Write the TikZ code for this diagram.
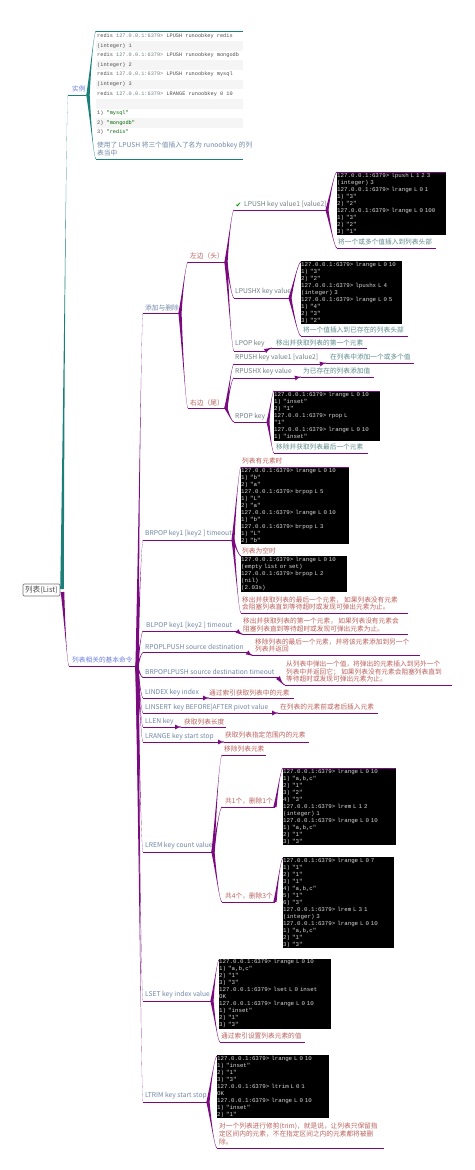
\documentclass[tikz,border=0pt]{standalone}
\usepackage{fontspec}
\usetikzlibrary{calc}
\newfontfamily\cjkf{Noto Sans CJK SC}
\newfontfamily\termf{Liberation Mono}
\newfontfamily\symf{DejaVu Sans}
\definecolor{pur}{HTML}{7B0A80}
\definecolor{tealb}{HTML}{1A7F78}
\definecolor{blu}{HTML}{6F86A8}
\definecolor{vblu}{HTML}{6C7FE0}
\definecolor{grn}{HTML}{5F8A8A}
\definecolor{redt}{HTML}{B9605C}
\definecolor{gtx}{HTML}{6F7F80}
\tikzset{
  lab/.style={anchor=west,inner sep=0pt,font=\cjkf\fontsize{6.7}{7.6}\selectfont,align=left},
  termbox/.style={anchor=north west,inner sep=0pt,fill=black,text=black!15,align=left,font=\termf\fontsize{5.8}{7}\selectfont},
  codeline/.style={anchor=west,inner sep=0pt,font=\termf\fontsize{5.25}{6}\selectfont,text=black!70},
  stripe/.style={fill=black!4,draw=none,inner sep=0pt,anchor=north west,minimum width=147pt,minimum height=9.65pt},
  rootbox/.style={draw=black!55,rounded corners=1.2pt,line width=.7pt,inner sep=0pt,minimum width=37pt,minimum height=12pt,font=\cjkf\fontsize{7.6}{8}\selectfont,text=black!70}
}
% tapered connector from coordinate #2 to coordinate #3, half width #4
\newcommand\taper[4][pur]{%
  \fill[#1] let \p1=(#2),\p2=(#3),\n1={\x2-\x1},\n2={\y2-\y1},\n3={atan2(.5*\n2,.4*\n1)} in
    ({\x1+#4pt*sin(\n3)},{\y1-#4pt*cos(\n3)})
    .. controls ({\x1+.4*\n1},{\y1+.5*\n2-.5pt}) and ({\x1+.75*\n1},{\y2-.45pt}) .. (\x2,{\y2-.45pt})
    -- (\x2,{\y2+.45pt})
    .. controls ({\x1+.75*\n1},{\y2+.45pt}) and ({\x1+.4*\n1},{\y1+.5*\n2+.5pt}) ..
    ({\x1-#4pt*sin(\n3)},{\y1+#4pt*cos(\n3)}) -- cycle;}
% \branch[colour]{parent}{name}{x1}{y}{x2}{half width}
\newcommand\branch[7][pur]{%
  \coordinate (#3) at (#4,#5);\coordinate (#3e) at (#6,#5);
  \taper[#1]{#2}{#3}{#7}
  \draw[#1,line width=.9pt] (#3) -- (#3e);}
\newcommand\term[6]{\node[termbox,text width=#4pt,minimum height=#5pt] (#1) at (#2,#3) {#6};}
\newcommand\pr{127.0.0.1:6379> }
\begin{document}
\begin{tikzpicture}[x=1pt,y=-1pt]
\useasboundingbox (0,0) rectangle (474,1170);
% example code block
\node[stripe] (s1) at (96,40.8) {};
\node[stripe] (s2) at (96,60.1) {};
\node[stripe] (s3) at (96,79.4) {};
\node[stripe] (s4) at (96,98.7) {};
\node[stripe] (s5) at (96,118) {};
\node[codeline] (c1) at (97,36) {redis \textcolor{gtx}{127.0.0.1:6379>} LPUSH runoobkey redis};
\node[codeline] (c2) at (97,45.7) {(integer) 1};
\node[codeline] (c3) at (97,55.3) {redis \textcolor{gtx}{127.0.0.1:6379>} LPUSH runoobkey mongodb};
\node[codeline] (c4) at (97,65) {(integer) 2};
\node[codeline] (c5) at (97,74.6) {redis \textcolor{gtx}{127.0.0.1:6379>} LPUSH runoobkey mysql};
\node[codeline] (c6) at (97,84.3) {(integer) 3};
\node[codeline] (c7) at (97,93.9) {redis \textcolor{gtx}{127.0.0.1:6379>} LRANGE runoobkey 0 10};
\node[codeline] (c8) at (97,113.2) {1) \textcolor{green!40!black}{"mysql"}};
\node[codeline] (c9) at (97,122.9) {2) \textcolor{green!40!black}{"mongodb"}};
\node[codeline] (c10) at (97,132.5) {3) \textcolor{green!40!black}{"redis"}};
% terminals with a visible top line
\term{tA}{337}{172}{109}{63}{\pr lpush L 1 2 3\\(integer) 3\\\pr lrange L 0 1\\1) "3"\\2) "2"\\\pr lrange L 0 100\\1) "3"\\2) "2"\\3) "1"}
\term{tC}{274}{391}{106}{50}{\pr lrange L 0 10\\1) "inset"\\2) "1"\\\pr rpop L\\"1"\\\pr lrange L 0 10\\1) "inset"}
\term{tD}{241}{467}{108}{77}{\pr lrange L 0 10\\1) "b"\\2) "a"\\\pr brpop L 5\\1) "L"\\2) "a"\\\pr lrange L 0 10\\1) "b"\\\pr brpop L 3\\1) "L"\\2) "b"}
\term{tF}{283}{768}{113}{77}{\pr lrange L 0 10\\1) "a,b,c"\\2) "1"\\3) "2"\\4) "3"\\\pr lrem L 1 2\\(integer) 1\\\pr lrange L 0 10\\1) "a,b,c"\\2) "1"\\3) "3"}
% root
\node[rootbox] (root) at (41.5,590) {列表(List)};
\coordinate (r1) at (62,589);
\coordinate (r2) at (62.5,592);
% trunks
\branch[tealb]{r1}{ex}{68}{95}{86}{1.8}
\coordinate (exj) at (88,95);
\taper[tealb]{exe}{exj}{.6}
\branch[tealb]{exj}{exa}{96}{31}{243}{1.7}
\branch[tealb]{exj}{exb}{96}{159}{243}{1.7}
\branch{r2}{cmd}{69}{666}{135}{1.8}
\coordinate (j) at (137,667);
\taper{cmde}{j}{.6}
% add/remove
\branch{j}{ad}{143}{313}{180}{1.6}
\branch{ade}{le}{188}{262}{226}{1.6}
\branch{ade}{ri}{188}{408}{226}{1.6}
\branch{lee}{lp}{234}{210}{327}{1.6}
\branch{lpe}{lpa}{337}{172}{446}{1.5}
\branch{lpe}{lpb}{337}{248}{436}{1.5}
\branch{lee}{lx}{234}{298}{290}{1.6}
\branch{lxe}{lxa}{301}{262}{402}{1.5}
\branch{lxe}{lxb}{301}{336}{408}{1.5}
\branch{lee}{lq}{234}{351}{265}{1.6}
\branch{lqe}{lqa}{272}{348}{367}{2.4}
\branch{rie}{rp}{234}{364}{320}{1.6}
\branch{rpe}{rpa}{326}{363}{414}{2.4}
\branch{rie}{rx}{234}{378}{295}{1.6}
\branch{rxe}{rxa}{301}{377}{374}{2.4}
\branch{rie}{rq}{234}{422}{268}{1.6}
\branch{rqe}{rqa}{274}{391}{380}{1.5}
\branch{rqe}{rqb}{274}{453}{368}{1.5}
% BRPOP
\branch{j}{br}{143}{540}{233}{1.6}
\branch{bre}{bra}{241}{467}{349}{1.5}
\branch{bre}{brb}{241}{556}{347}{1.5}
\branch{bre}{brc}{241}{613}{408}{1.5}
% single commands
\branch{j}{bl}{143}{631}{237}{1.6}
\branch{ble}{bla}{243}{634.5}{408}{2.4}
\branch{j}{rl}{143}{652.5}{247}{1.6}
\branch{rle}{rla}{253}{655.5}{420}{2.4}
\branch{j}{bb}{143}{677.5}{278}{1.6}
\branch{bbe}{bba}{285}{685}{452}{2.4}
\branch{j}{li}{143}{698}{203}{1.6}
\branch{lie}{lia}{209}{698}{294}{2.4}
\branch{j}{ls}{143}{713}{272}{1.6}
\branch{lse}{lsa}{278}{713}{378}{2.4}
\branch{j}{ll}{143}{727}{175}{1.6}
\branch{lle}{lla}{181}{727}{226}{2.4}
\branch{j}{lr}{143}{742}{218}{1.6}
\branch{lre}{lra}{224}{742}{309}{2.4}
% LREM
\branch{j}{lm}{143}{852}{213}{1.6}
\branch{lme}{lma}{222}{755}{266}{1.6}
\branch{lme}{lmb}{222}{807}{275}{1.6}
\branch{lme}{lmc}{222}{902}{275}{1.6}
\branch{lmbe}{lmd}{283}{768}{396}{1.6}
\branch{lmce}{lmf}{283}{858}{394}{1.6}
% LSET, LTRIM
\branch{j}{lt}{143}{1001}{212}{1.6}
\branch{lte}{lta}{219}{960}{331}{1.6}
\branch{lte}{ltb}{220}{1042}{305}{1.6}
\branch{j}{lu}{143}{1102}{208}{1.6}
\branch{lue}{lua}{217}{1056}{329}{1.6}
\branch{lue}{lub}{217}{1148}{384}{1.6}
% terminals drawn over their connector
\term{tB}{301}{261}{101}{63}{\pr lrange L 0 10\\1) "3"\\2) "2"\\\pr lpushx L 4\\(integer) 3\\\pr lrange L 0 5\\1) "4"\\2) "3"\\3) "2"}
\term{tE}{241}{556}{106}{36}{\pr lrange L 0 10\\(empty list or set)\\\pr brpop L 2\\(nil)\\(2.03s)}
\term{tG}{283}{857}{111}{91}{\pr lrange L 0 7\\1) "1"\\2) "1"\\3) "1"\\4) "a,b,c"\\5) "1"\\6) "3"\\\pr lrem L 3 1\\(integer) 3\\\pr lrange L 0 10\\1) "a,b,c"\\2) "1"\\3) "3"}
\term{tH}{219}{958.5}{112}{70}{\pr lrange L 0 10\\1) "a,b,c"\\2) "1"\\3) "3"\\\pr lset L 0 inset\\OK\\\pr lrange L 0 10\\1) "inset"\\2) "1"\\3) "3"}
\term{tI}{217}{1055}{112}{63}{\pr lrange L 0 10\\1) "inset"\\2) "1"\\3) "3"\\\pr ltrim L 0 1\\OK\\\pr lrange L 0 10\\1) "inset"\\2) "1"}
% labels
\node[lab,text=vblu] (n1) at (72,89) {实例};
\node[lab,text=vblu] (n2) at (72,660) {列表相关的基本命令};
\node[lab,text=blu] (n3) at (97,149) {使用了 LPUSH 将三个值插入了名为 runoobkey 的列\\表当中};
\node[lab,text=blu] (n4) at (145,308) {添加与删除};
\node[lab,text=redt] (n5) at (190,256) {左边（头）};
\node[lab,text=redt] (n6) at (190,403) {右边（尾）};
\node[lab,text=green!60!black,font=\symf\fontsize{7}{7}\selectfont] (n7) at (235.5,205) {✔};
\node[lab,text=gtx] (n8) at (244,205) {LPUSH key value1 [value2]};
\node[lab,text=grn] (n9) at (338,242) {将一个或多个值插入到列表头部};
\node[lab,text=gtx] (n10) at (235,292) {LPUSHX key value};
\node[lab,text=grn] (n11) at (303,330) {将一个值插入到已存在的列表头部};
\node[lab,text=gtx] (n12) at (235,344) {LPOP key};
\node[lab,text=grn] (n13) at (276,343) {移出并获取列表的第一个元素};
\node[lab,text=gtx] (n14) at (235,358) {RPUSH key value1 [value2]};
\node[lab,text=grn] (n15) at (330,357) {在列表中添加一个或多个值};
\node[lab,text=gtx] (n16) at (235,372) {RPUSHX key value};
\node[lab,text=grn] (n17) at (303,371) {为已存在的列表添加值};
\node[lab,text=gtx] (n18) at (235,417) {RPOP key};
\node[lab,text=grn] (n19) at (276,447) {移除并获取列表最后一个元素};
\node[lab,text=blu] (n20) at (145,534) {BRPOP key1 [key2 ] timeout};
\node[lab,text=redt] (n21) at (242,461) {列表有元素时};
\node[lab,text=redt] (n22) at (242,551) {列表为空时};
\node[lab,text=redt] (n23) at (242,603.5) {移出并获取列表的最后一个元素， 如果列表没有元素\\会阻塞列表直到等待超时或发现可弹出元素为止。};
\node[lab,text=blu] (n24) at (146,626) {BLPOP key1 [key2 ] timeout};
\node[lab,text=redt] (n25) at (243,625) {移出并获取列表的第一个元素， 如果列表没有元素会\\阻塞列表直到等待超时或发现可弹出元素为止。};
\node[lab,text=blu] (n26) at (145,647) {RPOPLPUSH source destination};
\node[lab,text=redt] (n27) at (255,645.5) {移除列表的最后一个元素，并将该元素添加到另一个\\列表并返回};
\node[lab,text=blu] (n28) at (145,672) {BRPOPLPUSH source destination timeout};
\node[lab,text=redt] (n29) at (286,671.5) {从列表中弹出一个值，将弹出的元素插入到另外一个\\列表中并返回它； 如果列表没有元素会阻塞列表直到\\等待超时或发现可弹出元素为止。};
\node[lab,text=blu] (n30) at (145,693) {LINDEX key index};
\node[lab,text=redt] (n31) at (209,693) {通过索引获取列表中的元素};
\node[lab,text=blu] (n32) at (145,708) {LINSERT key BEFORE|AFTER pivot value};
\node[lab,text=redt] (n33) at (280,707) {在列表的元素前或者后插入元素};
\node[lab,text=blu] (n34) at (145,722) {LLEN key};
\node[lab,text=redt] (n35) at (184,721.5) {获取列表长度};
\node[lab,text=blu] (n36) at (145,737) {LRANGE key start stop};
\node[lab,text=redt] (n37) at (225,735) {获取列表指定范围内的元素};
\node[lab,text=blu] (n38) at (145,846) {LREM key count value};
\node[lab,text=redt] (n39) at (224,749) {移除列表元素};
\node[lab,text=redt] (n40) at (225,801) {共1个，删除1个};
\node[lab,text=redt] (n41) at (225,896) {共4个，删除3个};
\node[lab,text=blu] (n42) at (145,995) {LSET key index value};
\node[lab,text=redt] (n43) at (221,1036) {通过索引设置列表元素的值};
\node[lab,text=blu] (n44) at (145,1096) {LTRIM key start stop};
\node[lab,text=redt] (n45) at (219,1134) {对一个列表进行修剪(trim)，就是说，让列表只保留指\\定区间内的元素，不在指定区间之内的元素都将被删\\除。};
\end{tikzpicture}
\end{document}
